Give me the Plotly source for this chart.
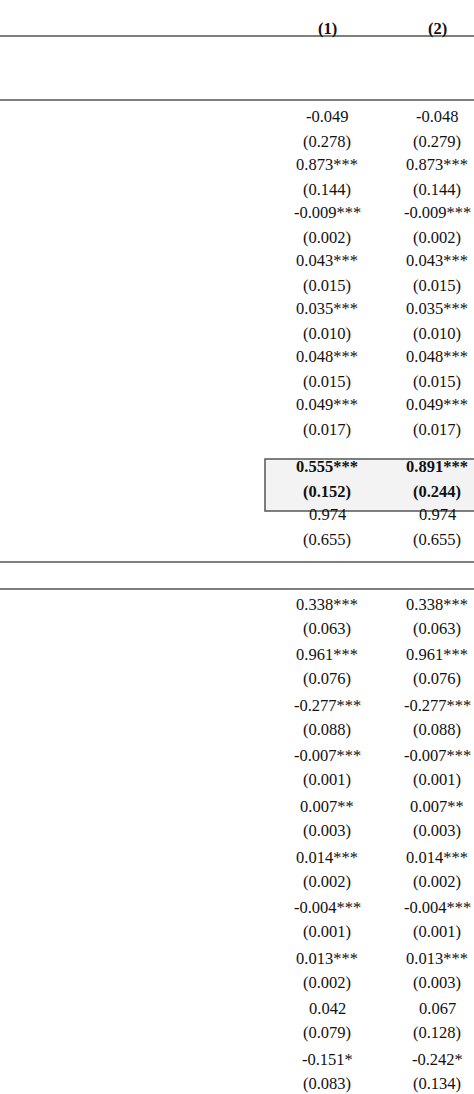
import plotly.graph_objects as go

# Panel A: long run coefficients
a_vars = ['log(Prod)', 'log(TOT)', 'OPEN', 'Current_ac/gdp', 'FDI_ac/gdp',
          'Portfolio_investment/gdp', 'Other_investment/gdp', 'Immigrants_money/gdp', 'Constant']
a_coef1 = ['-0.049', '0.873***', '-0.009***', '0.043***', '0.035***', '0.048***', '0.049***', '0.555***', '0.974']
a_se1 = ['(0.278)', '(0.144)', '(0.002)', '(0.015)', '(0.010)', '(0.015)', '(0.017)', '(0.152)', '(0.655)']
a_coef2 = ['-0.048', '0.873***', '-0.009***', '0.043***', '0.035***', '0.048***', '0.049***', '0.891***', '0.974']
a_se2 = ['(0.279)', '(0.144)', '(0.002)', '(0.015)', '(0.010)', '(0.015)', '(0.017)', '(0.244)', '(0.655)']

# Panel B: short run
b_vars = ['dlog_reer(-1)', 'dlog_tot', 'dlog_tot(-1)', 'dopen', 'Dcurrent_gdp', 'dportfolio_gdp',
          'dportfolio_gdp(-1)', 'dOther', 'd(immigrants_money/gdp)', 'd(immigrants_money/gdp)(-1)']
b_coef1 = ['0.338***', '0.961***', '-0.277***', '-0.007***', '0.007**', '0.014***', '-0.004***', '0.013***', '0.042', '-0.151*']
b_se1 = ['(0.063)', '(0.076)', '(0.088)', '(0.001)', '(0.003)', '(0.002)', '(0.001)', '(0.002)', '(0.079)', '(0.083)']
b_coef2 = ['0.338***', '0.961***', '-0.277***', '-0.007***', '0.007**', '0.014***', '-0.004***', '0.013***', '0.067', '-0.242*']
b_se2 = ['(0.063)', '(0.076)', '(0.088)', '(0.001)', '(0.003)', '(0.002)', '(0.001)', '(0.003)', '(0.128)', '(0.134)']

FONT = 'Liberation Serif'
C1, C2 = 327, 437
ann = []

def txt(x, y, s, anchor='center', bold=False):
    if bold:
        s = '<b>' + s + '</b>'
    ann.append(dict(x=x, y=y, text=s, showarrow=False, xanchor=anchor, yanchor='middle',
                    font=dict(family=FONT, size=16.5, color='#111')))

txt(-3, 7, 'Dependent variable dlog(REER)', 'left')
txt(C1, 28, '(1)', bold=True)
txt(C2, 28, '(2)', bold=True)
txt(-3, 74, 'Panel A: Long run coefficients', 'left', bold=True)

for i, v in enumerate(a_vars):
    y = 116 + 48 * i + (14 if i >= 7 else 0)
    b = v == 'Immigrants_money/gdp'
    txt(-3, y + (9 if b else 0), v, 'left', bold=b)
    txt(C1, y, a_coef1[i], bold=b)
    txt(C2, y, a_coef2[i], bold=b)
    txt(C1, y + 25, a_se1[i], bold=b)
    txt(C2, y + 25, a_se2[i], bold=b)

for i, v in enumerate(b_vars):
    y = 604 + 50.6 * i
    txt(-3, y + 2, v, 'left')
    txt(C1, y, b_coef1[i])
    txt(C2, y, b_coef2[i])
    txt(C1, y + 24, b_se1[i])
    txt(C2, y + 24, b_se2[i])

shapes = [
    dict(type='rect', x0=265, x1=476, y0=459, y1=511, fillcolor='#f3f3f3',
         line=dict(color='#555', width=1.5), layer='below'),
]
for y in [36, 100, 562, 589]:
    shapes.append(dict(type='line', x0=0, x1=474, y0=y, y1=y, line=dict(color='#555', width=1.5)))

fig = go.Figure()
fig.update_layout(
    width=474, height=1094, margin=dict(l=0, r=0, t=0, b=0),
    paper_bgcolor='white', plot_bgcolor='white', showlegend=False,
    xaxis=dict(range=[0, 474], visible=False, fixedrange=True),
    yaxis=dict(range=[1094, 0], visible=False, fixedrange=True),
    annotations=ann, shapes=shapes,
)
fig.write_html('out.html', config={'displayModeBar': False},
               post_script="document.body.style.margin='0';document.body.style.overflow='hidden';")
